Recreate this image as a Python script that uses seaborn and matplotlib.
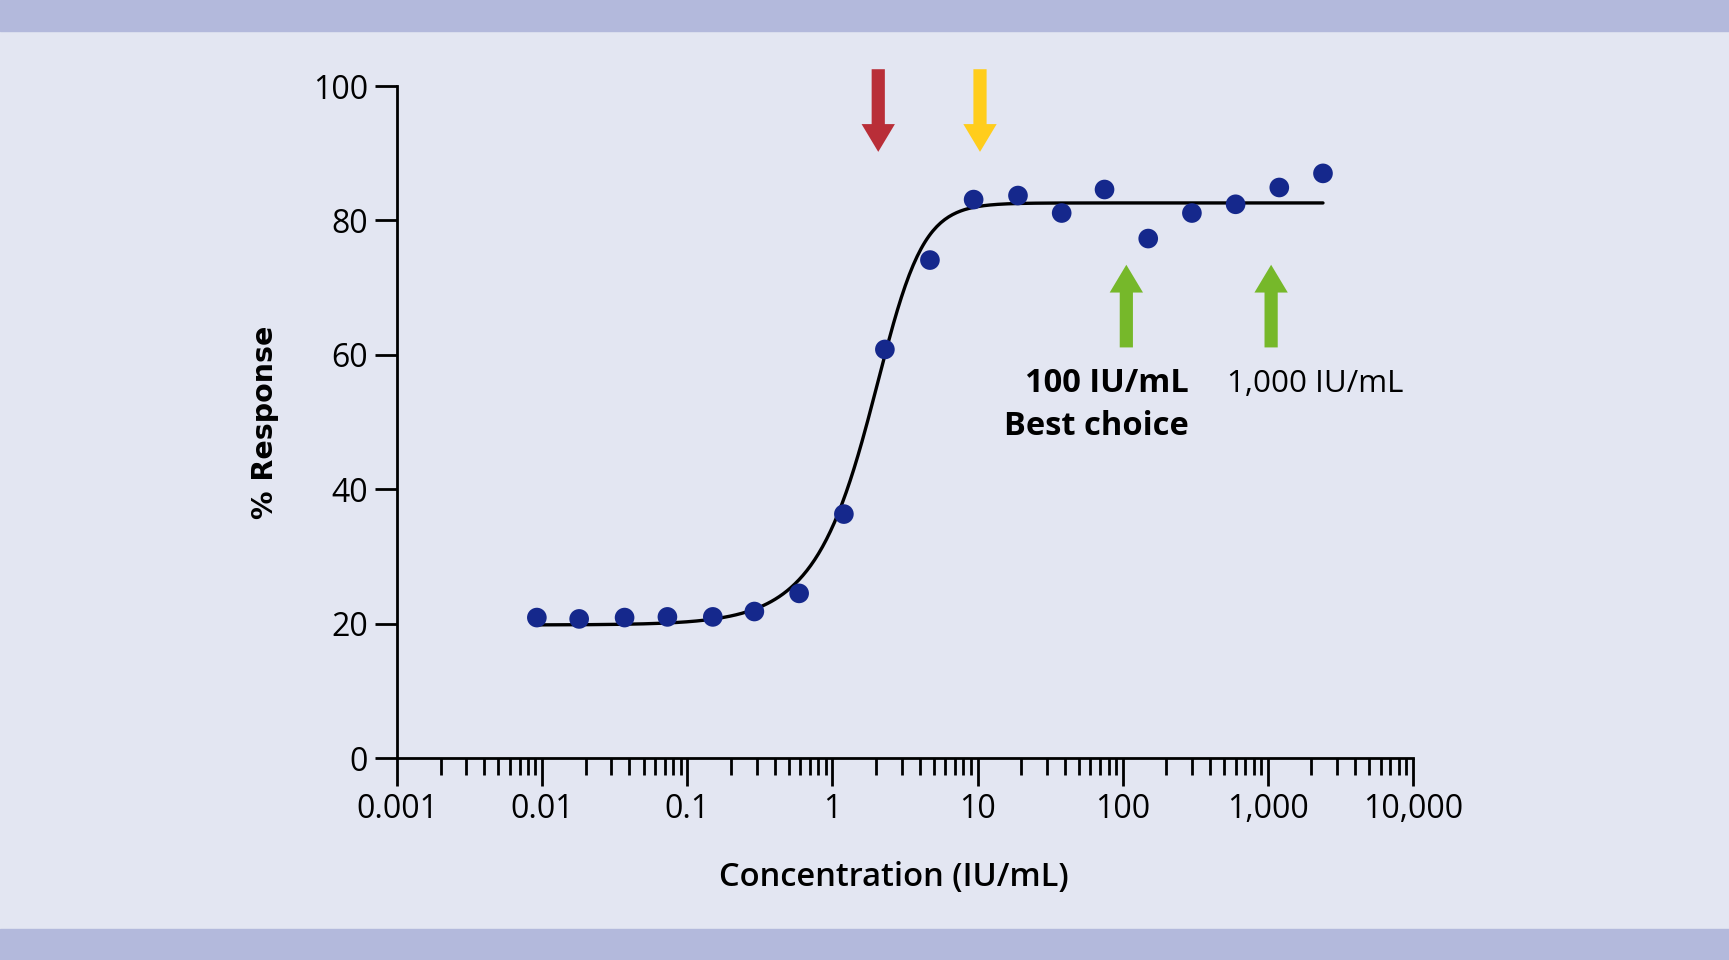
import numpy as np
import pandas as pd
import matplotlib
matplotlib.use('Agg')
import matplotlib.pyplot as plt
import matplotlib.ticker as mticker
import seaborn as sns

# concentracoes (diluicao seriada) e % de resposta
concentracao = [0.0092, 0.018, 0.037, 0.073, 0.15, 0.29, 0.59, 1.2, 2.3, 4.7,
                9.4, 19, 38, 75, 150, 300, 600, 1200, 2400]
resposta = [20.9, 20.7, 20.9, 21.0, 21.0, 21.8, 24.5, 36.3, 60.8, 74.1,
            83.1, 83.7, 81.1, 84.6, 77.3, 81.1, 82.4, 84.9, 87.0]

# parametros do ajuste logistico de 5 parametros (assimetrico)
base_ajuste = 19.8
topo_ajuste = 82.6
ec50_ajuste = 2.6
hill_ajuste = 3.0
assimetria = 0.5

# ticks do eixo x
ticks_x = [0.001, 0.01, 0.1, 1, 10, 100, 1000, 10000]
rotulos_x = ['0.001', '0.01', '0.1', '1', '10', '100', '1,000', '10,000']
ticks_y = [0, 20, 40, 60, 80, 100]

# setas: (concentracao, inicio, ponta, cor)
setas = [
    (2.07, 102.5, 90.2, '#b92e38'),
    (10.4, 102.5, 90.2, '#ffcd1c'),
    (106, 61.1, 73.4, '#76b82a'),
    (1054, 61.1, 73.4, '#76b82a'),
]

fundo = '#e3e6f2'
faixa = '#b3b9dc'

sns.set_theme(style='ticks', rc={'text.color': 'black', 'axes.labelcolor': 'black',
                                 'xtick.color': 'black', 'ytick.color': 'black'})
plt.rcParams['font.family'] = ['Open Sans', 'DejaVu Sans']

fig = plt.figure(figsize=(17.29, 9.6), dpi=100, facecolor=fundo)

# faixas superior e inferior
fig.add_artist(plt.Rectangle((0, 0.9677), 1, 0.0323, transform=fig.transFigure,
                             color=faixa, zorder=0))
fig.add_artist(plt.Rectangle((0, 0), 1, 0.0323, transform=fig.transFigure,
                             color=faixa, zorder=0))

ax = fig.add_axes([0.2296, 0.2104, 0.5876, 0.70])
ax.set_facecolor(fundo)

dados = pd.DataFrame({'conc': concentracao, 'resp': resposta})

# curva ajustada
xs = np.logspace(np.log10(concentracao[0]), np.log10(concentracao[-1]), 400)
ys = base_ajuste + (topo_ajuste - base_ajuste) / (1 + (ec50_ajuste / xs) ** hill_ajuste) ** assimetria
sns.lineplot(x=xs, y=ys, ax=ax, color='black', linewidth=2.4, zorder=2)

sns.scatterplot(data=dados, x='conc', y='resp', ax=ax, color='#15288c',
                s=200, edgecolor='none', zorder=3)

ax.set_xscale('log')
ax.set_xlim(0.001, 10000)
ax.set_ylim(0, 100)

ax.set_xticks(ticks_x, labels=rotulos_x)
ax.xaxis.set_minor_locator(mticker.LogLocator(base=10, subs=np.arange(2, 10), numticks=50))
ax.xaxis.set_minor_formatter(mticker.NullFormatter())
ax.set_yticks(ticks_y)

ax.tick_params(axis='x', which='major', direction='out', length=20, width=2,
               color='black', labelsize=23, pad=5)
ax.tick_params(axis='x', which='minor', direction='out', length=12, width=2,
               color='black')
ax.tick_params(axis='y', which='major', direction='out', length=16, width=2,
               color='black', labelsize=23, pad=5)

for lado in ['top', 'right']:
    ax.spines[lado].set_visible(False)
for lado in ['left', 'bottom']:
    ax.spines[lado].set_linewidth(2)
    ax.spines[lado].set_color('black')

ax.set_xlabel('Concentration (IU/mL)', fontsize=23.5, fontweight='semibold')
ax.xaxis.set_label_coords(0.489, -0.153)
ax.set_ylabel('% Response', fontsize=20.5, fontweight='bold',
              family=['DejaVu Sans'], labelpad=24)

for x, y0, y1, cor in setas:
    ax.annotate('', xy=(x, y1), xytext=(x, y0), xycoords='data', textcoords='data',
                annotation_clip=False,
                arrowprops=dict(arrowstyle='simple,head_length=20,head_width=24,tail_width=9.5',
                                mutation_scale=1, color=cor, shrinkA=0, shrinkB=0,
                                linewidth=0))

ax.text(287, 55.7, '100 IU/mL', ha='right', va='center', fontsize=23.5, fontweight='bold')
ax.text(287, 49.4, 'Best choice', ha='right', va='center', fontsize=23.5, fontweight='bold')
ax.text(2120, 55.7, '1,000 IU/mL', ha='center', va='center', fontsize=22.5)

fig.savefig('out.png', dpi=100, facecolor=fundo)
